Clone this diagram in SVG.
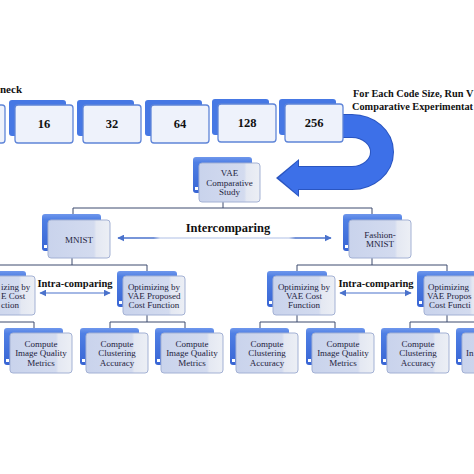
<svg xmlns="http://www.w3.org/2000/svg" width="474" height="474" viewBox="0 0 474 474">
<defs>
<linearGradient id="backG" x1="0" y1="0" x2="0" y2="1">
<stop offset="0" stop-color="#6f97ec"/>
<stop offset="0.15" stop-color="#4f7fe4"/>
<stop offset="1" stop-color="#3865d4"/>
</linearGradient>
<linearGradient id="frontG" x1="0" y1="0" x2="1" y2="0">
<stop offset="0" stop-color="#c9d3ec"/>
<stop offset="0.74" stop-color="#d3dbef"/>
<stop offset="0.78" stop-color="#e4e8f2"/>
<stop offset="1" stop-color="#eceff5"/>
</linearGradient>
<linearGradient id="interG" gradientUnits="userSpaceOnUse" x1="117" y1="0" x2="332" y2="0">
<stop offset="0" stop-color="#4a72cc"/>
<stop offset="0.17" stop-color="#4a72cc"/>
<stop offset="0.2" stop-color="#c9d4ee"/>
<stop offset="0.8" stop-color="#c9d4ee"/>
<stop offset="0.83" stop-color="#4a72cc"/>
<stop offset="1" stop-color="#4a72cc"/>
</linearGradient>
<marker id="ah" viewBox="0 0 10 10" refX="9" refY="5" markerWidth="7" markerHeight="7" markerUnits="userSpaceOnUse" orient="auto-start-reverse">
<path d="M0,0 L10,5 L0,10 z" fill="#4a72cc"/>
</marker>
</defs>
<style>
.tb{fill:#4678e4;}
.tf{fill:#eef2fb;stroke:#5f85d8;stroke-width:1.3;}
.num{font-family:"Liberation Serif",serif;font-weight:bold;font-size:12.5px;fill:#111;text-anchor:middle;}
.bk{fill:url(#backG);}
.fr{fill:url(#frontG);stroke:#a3b1d4;stroke-width:1;}
.dot{fill:#ffffff;}
.t{font-family:"Liberation Serif",serif;font-size:9px;fill:#1e2440;text-anchor:middle;}
.te{font-family:"Liberation Serif",serif;font-size:9px;fill:#1e2440;text-anchor:end;}
.ts{font-family:"Liberation Serif",serif;font-size:9px;fill:#1e2440;text-anchor:start;}
.hd{font-family:"Liberation Serif",serif;font-weight:bold;fill:#111;}
.ln{stroke:#3d4a6e;stroke-width:1;fill:none;}
.dbl{stroke:#4a72cc;stroke-width:1.2;fill:none;}
</style>
<rect width="474" height="474" fill="#ffffff"/>

<text class="hd" x="0" y="93" font-size="11">neck</text>
<text class="hd" x="353" y="97" font-size="10.3">For Each Code Size, Run V</text>
<text class="hd" x="352" y="110" font-size="10.3">Comparative Experimentat</text>

<g id="curved-arrow">
<path d="M320,126 H352 A30,26 0 0 1 352,178 H294" fill="none" stroke="#2a55c0" stroke-width="24"/>
<polygon points="299,159 276,178 299,197" fill="#2a55c0"/>
<path d="M320,126 H352 A30,26 0 0 1 352,178 H294" fill="none" stroke="#3d70e8" stroke-width="22"/>
<polygon points="298,161 278.5,178 298,195" fill="#3d70e8"/>
</g>

<g id="code-sizes">
<g id="cs-prev"><rect class="tb" x="-59" y="100" width="57" height="36" rx="3"/><rect class="tf" x="-53" y="105" width="58" height="38" rx="3"/></g>
<g id="cs-16"><rect class="tb" x="9" y="100" width="57" height="36" rx="3"/><rect class="tf" x="15" y="105" width="58" height="38" rx="3"/><text class="num" x="44" y="127.5">16</text></g>
<g id="cs-32"><rect class="tb" x="77" y="100" width="57" height="36" rx="3"/><rect class="tf" x="83" y="105" width="58" height="38" rx="3"/><text class="num" x="112" y="127.5">32</text></g>
<g id="cs-64"><rect class="tb" x="145" y="100" width="57" height="36" rx="3"/><rect class="tf" x="151" y="105" width="58" height="38" rx="3"/><text class="num" x="180" y="127.5">64</text></g>
<g id="cs-128"><rect class="tb" x="212" y="99" width="57" height="36" rx="3"/><rect class="tf" x="218" y="104" width="58" height="38" rx="3"/><text class="num" x="247" y="126.5">128</text></g>
<g id="cs-256"><rect class="tb" x="279" y="99" width="57" height="36" rx="3"/><rect class="tf" x="285" y="104" width="58" height="38" rx="3"/><text class="num" x="314" y="126.5">256</text></g>
</g>

<g id="connectors">
<path class="ln" d="M223,202 V208 M73,208 H372 M73,208 V214 M372,208 V214"/>
<path class="ln" d="M72,258 V265 M-3,265 H147 M147,265 V271"/>
<path class="ln" d="M372,258 V265 M297,265 H447 M297,265 V271 M447,265 V271"/>
<path class="ln" d="M-41,322 H34 M34,322 V328"/>
<path class="ln" d="M147,315 V322 M110,322 H185 M110,322 V328 M185,322 V328"/>
<path class="ln" d="M297,315 V322 M260,322 H335 M260,322 V328 M335,322 V328"/>
<path class="ln" d="M447,315 V322 M410,322 H485 M410,322 V328"/>
<line x1="118" y1="238" x2="331" y2="238" stroke="url(#interG)" stroke-width="1.3" marker-start="url(#ah)" marker-end="url(#ah)"/>
<line class="dbl" x1="40" y1="293" x2="110" y2="293" marker-start="url(#ah)" marker-end="url(#ah)"/>
<line class="dbl" x1="340" y1="293" x2="411" y2="293" marker-start="url(#ah)" marker-end="url(#ah)"/>
</g>

<text class="hd" x="228" y="232" font-size="12.5" text-anchor="middle">Intercomparing</text>
<text class="hd" x="75" y="287" font-size="10.5" text-anchor="middle">Intra-comparing</text>
<text class="hd" x="376" y="287" font-size="10.5" text-anchor="middle">Intra-comparing</text>

<g id="vae-study">
<rect class="bk" x="193" y="157" width="59" height="36" rx="3"/><rect class="dot" x="195" y="187" width="3" height="3"/>
<rect class="fr" x="199" y="163" width="61" height="39" rx="3"/>
<text class="t" x="229.5" y="176">VAE</text><text class="t" x="229.5" y="185.5">Comparative</text><text class="t" x="229.5" y="195">Study</text>
</g>
<g id="mnist">
<rect class="bk" x="42" y="214" width="59" height="37" rx="3"/><rect class="dot" x="44" y="245" width="3" height="3"/>
<rect class="fr" x="48" y="220" width="62" height="38" rx="3"/>
<text class="t" x="79" y="243">MNIST</text>
</g>
<g id="fashion-mnist">
<rect class="bk" x="343" y="214" width="59" height="37" rx="3"/><rect class="dot" x="345" y="245" width="3" height="3"/>
<rect class="fr" x="349" y="220" width="62" height="38" rx="3"/>
<text class="t" x="380" y="238">Fashion-</text><text class="t" x="380" y="247">MNIST</text>
</g>

<g id="mnist-vae-cost">
<rect class="bk" x="-33" y="271" width="59" height="36" rx="3"/>
<rect class="fr" x="-27" y="276" width="62" height="39" rx="3"/>
<text class="ts" x="1" y="290">izing by</text><text class="ts" x="1" y="299">E Cost</text><text class="ts" x="1" y="308">ction</text>
</g>
<g id="mnist-proposed">
<rect class="bk" x="117" y="271" width="60" height="36" rx="3"/><rect class="dot" x="119" y="301" width="3" height="3"/>
<rect class="fr" x="123" y="276" width="62" height="39" rx="3"/>
<text class="t" x="154" y="290">Optimizing by</text><text class="t" x="154" y="299">VAE Proposed</text><text class="t" x="154" y="308">Cost Function</text>
</g>
<g id="fashion-vae-cost">
<rect class="bk" x="267" y="271" width="60" height="36" rx="3"/><rect class="dot" x="269" y="301" width="3" height="3"/>
<rect class="fr" x="273" y="276" width="62" height="39" rx="3"/>
<text class="t" x="304" y="290">Optimizing by</text><text class="t" x="304" y="299">VAE Cost</text><text class="t" x="304" y="308">Function</text>
</g>
<g id="fashion-proposed">
<rect class="bk" x="417" y="271" width="60" height="36" rx="3"/><rect class="dot" x="419" y="301" width="3" height="3"/>
<rect class="fr" x="424" y="276" width="62" height="39" rx="3"/>
<text class="ts" x="428" y="290">Optimizing</text><text class="ts" x="427" y="299">VAE Propos</text><text class="ts" x="429" y="308">Cost Functi</text>
</g>

<g id="m1-iqm">
<rect class="bk" x="4" y="328" width="59" height="37" rx="3"/><rect class="dot" x="6" y="359" width="3" height="3"/>
<rect class="fr" x="10" y="333" width="62" height="40" rx="3"/>
<text class="t" x="41" y="347">Compute</text><text class="t" x="41" y="356">Image Quality</text><text class="t" x="41" y="366">Metrics</text>
</g>
<g id="m2-ca">
<rect class="bk" x="80" y="328" width="59" height="37" rx="3"/><rect class="dot" x="82" y="359" width="3" height="3"/>
<rect class="fr" x="86" y="333" width="62" height="40" rx="3"/>
<text class="t" x="117" y="347">Compute</text><text class="t" x="117" y="356">Clustering</text><text class="t" x="117" y="366">Accuracy</text>
</g>
<g id="m3-iqm">
<rect class="bk" x="155" y="328" width="59" height="37" rx="3"/><rect class="dot" x="157" y="359" width="3" height="3"/>
<rect class="fr" x="161" y="333" width="62" height="40" rx="3"/>
<text class="t" x="192" y="347">Compute</text><text class="t" x="192" y="356">Image Quality</text><text class="t" x="192" y="366">Metrics</text>
</g>
<g id="f1-ca">
<rect class="bk" x="230" y="328" width="59" height="37" rx="3"/><rect class="dot" x="232" y="359" width="3" height="3"/>
<rect class="fr" x="236" y="333" width="62" height="40" rx="3"/>
<text class="t" x="267" y="347">Compute</text><text class="t" x="267" y="356">Clustering</text><text class="t" x="267" y="366">Accuracy</text>
</g>
<g id="f2-iqm">
<rect class="bk" x="306" y="328" width="59" height="37" rx="3"/><rect class="dot" x="308" y="359" width="3" height="3"/>
<rect class="fr" x="312" y="333" width="62" height="40" rx="3"/>
<text class="t" x="343" y="347">Compute</text><text class="t" x="343" y="356">Image Quality</text><text class="t" x="343" y="366">Metrics</text>
</g>
<g id="f3-ca">
<rect class="bk" x="381" y="328" width="59" height="37" rx="3"/><rect class="dot" x="383" y="359" width="3" height="3"/>
<rect class="fr" x="387" y="333" width="62" height="40" rx="3"/>
<text class="t" x="418" y="347">Compute</text><text class="t" x="418" y="356">Clustering</text><text class="t" x="418" y="366">Accuracy</text>
</g>
<g id="f4-iqm">
<rect class="bk" x="456" y="328" width="59" height="37" rx="3"/><rect class="dot" x="458" y="359" width="3" height="3"/>
<rect class="fr" x="462" y="333" width="62" height="40" rx="3"/>
<text class="ts" x="466" y="356">In</text>
</g>
</svg>
